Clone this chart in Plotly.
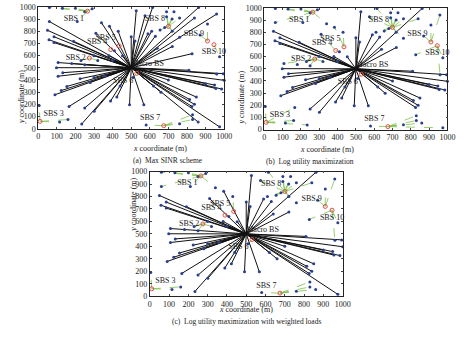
import plotly.graph_objects as go

# ---------------- data ----------------
macro_bs = (500, 500)
sbs_names = ["SBS 1", "SBS 2", "SBS 3", "SBS 4", "SBS 5", "SBS 6", "SBS 7", "SBS 8", "SBS 9", "SBS 10"]
sbs_x = [265, 275, 10, 390, 435, 530, 675, 700, 910, 945]
sbs_y = [965, 580, 60, 650, 680, 455, 25, 840, 720, 690]

user_x = [60, 50, 58, 85, 85, 190, 210, 130, 60, 200,
          250, 290, 340, 310, 383, 430, 527, 574, 615, 500,
          520, 590, 610, 630, 655, 690, 730, 690, 720, 760,
          840, 862, 959, 680, 720, 760, 910, 870, 721, 640,
          827, 975, 960, 410, 380, 453, 400, 107, 98, 132,
          107, 225, 180, 250, 320, 300, 230, 154, 124, 90,
          166, 250, 301, 234, 389, 423, 491, 568, 280, 300,
          360, 5, 115, 160, 810, 995, 1000, 948, 900, 986,
          955, 814, 826, 840, 850, 975, 860, 830, 830, 580,
          760, 510, 700, 620, 660, 440]
user_y = [880, 808, 730, 755, 707, 718, 880, 990, 995, 990,
          960, 985, 870, 783, 842, 800, 968, 928, 995, 755,
          720, 780, 800, 760, 810, 960, 960, 920, 900, 910,
          910, 995, 941, 830, 800, 750, 860, 770, 675, 660,
          616, 590, 450, 640, 600, 598, 560, 543, 501, 460,
          431, 410, 535, 525, 560, 600, 560, 347, 313, 279,
          183, 170, 144, 39, 227, 261, 196, 196, 380, 420,
          430, 190, 55, 75, 480, 452, 397, 358, 370, 326,
          330, 240, 183, 200, 260, 15, 55, 115, 75, 30,
          40, 420, 400, 350, 300, 350]

# serving station per user: 0 = macro BS, k = SBS k
assoc_a = [0, 0, 0, 0, 0, 0, 1, 1, 1, 1,
           1, 1, 0, 0, 0, 0, 0, 0, 0, 0,
           0, 0, 0, 0, 8, 8, 8, 8, 8, 8,
           0, 0, 0, 8, 8, 8, 9, 9, 0, 0,
           0, 10, 0, 4, 0, 0, 0, 0, 0, 0,
           0, 0, 0, 0, 2, 0, 2, 0, 0, 0,
           0, 0, 0, 0, 0, 0, 0, 0, 0, 0,
           0, 3, 3, 3, 0, 0, 0, 0, 0, 0,
           0, 0, 0, 0, 0, 0, 0, 7, 7, 7,
           7, 6, 0, 0, 0, 0]
assoc_b = [1, 0, 0, 0, 0, 0, 1, 1, 1, 1,
           1, 1, 1, 4, 5, 5, 0, 8, 8, 0,
           0, 0, 8, 0, 8, 8, 8, 8, 8, 8,
           8, 0, 9, 8, 8, 8, 9, 9, 0, 0,
           10, 10, 10, 4, 0, 0, 0, 2, 0, 0,
           0, 0, 2, 2, 2, 2, 2, 0, 0, 0,
           3, 0, 0, 3, 0, 0, 0, 0, 0, 0,
           0, 3, 3, 3, 0, 0, 0, 0, 0, 0,
           0, 0, 0, 0, 0, 7, 7, 7, 7, 7,
           7, 6, 0, 0, 0, 0]
assoc_c = [1, 0, 0, 0, 0, 0, 1, 1, 1, 1,
           1, 1, 1, 0, 0, 5, 0, 8, 8, 0,
           0, 0, 8, 0, 8, 8, 8, 8, 8, 8,
           8, 0, 9, 8, 8, 8, 9, 9, 0, 0,
           10, 10, 10, 4, 0, 0, 0, 0, 0, 0,
           0, 0, 2, 2, 2, 2, 2, 0, 0, 0,
           0, 0, 0, 0, 0, 0, 0, 0, 0, 0,
           0, 3, 3, 3, 0, 0, 0, 0, 0, 0,
           0, 0, 0, 0, 0, 0, 7, 7, 7, 7,
           7, 6, 0, 0, 0, 0]

captions = ["(a)  Max SINR scheme", "(b)  Log utility maximization",
            "(c)  Log utility maximization with weighted loads"]
tick_vals = list(range(0, 1001, 100))

# ---------------- figure ----------------
W, H = 474, 348
FONT = "Liberation Serif, Times New Roman, serif"
TXT = "#1a1a1a"
fig = go.Figure()

panels = [
    dict(assoc=assoc_a, xa="x", ya="y", xd=(37, 227), yd=(3, 128)),
    dict(assoc=assoc_b, xa="x2", ya="y2", xd=(268, 455), yd=(4, 129)),
    dict(assoc=assoc_c, xa="x3", ya="y3", xd=(151, 348), yd=(172, 300)),
]
label_pos = ["bottom left", "middle left", "top right", "top left", "top left",
             "bottom left", "top left", "top left", "top left", "bottom center"]

for p in panels:
    bx, by, gx, gy = [], [], [], []
    for ux, uy, s in zip(user_x, user_y, p["assoc"]):
        if s == 0:
            bx += [macro_bs[0], ux, None]
            by += [macro_bs[1], uy, None]
        else:
            gx += [sbs_x[s - 1], ux, None]
            gy += [sbs_y[s - 1], uy, None]
    fig.add_trace(go.Scatter(x=gx, y=gy, mode="lines", xaxis=p["xa"], yaxis=p["ya"],
                             line=dict(color="#7cc24a", width=0.8, dash="dash"),
                             hoverinfo="skip", showlegend=False))
    fig.add_trace(go.Scatter(x=bx, y=by, mode="lines", xaxis=p["xa"], yaxis=p["ya"],
                             line=dict(color="#111111", width=1.0),
                             hoverinfo="skip", showlegend=False))
    fig.add_trace(go.Scatter(x=user_x, y=user_y, mode="markers", xaxis=p["xa"], yaxis=p["ya"],
                             marker=dict(color="#2a3f8c", size=3), cliponaxis=False,
                             showlegend=False))
    fig.add_trace(go.Scatter(x=sbs_x, y=sbs_y, mode="markers+text", xaxis=p["xa"], yaxis=p["ya"],
                             marker=dict(color="#e0504a", size=4, symbol="circle-open",
                                         line=dict(width=1)),
                             text=sbs_names, textposition=label_pos,
                             textfont=dict(family=FONT, size=8, color=TXT),
                             cliponaxis=False, showlegend=False))
    fig.add_trace(go.Scatter(x=[macro_bs[0]], y=[macro_bs[1]], mode="text", xaxis=p["xa"], yaxis=p["ya"],
                             text=["Macro BS"], textposition="top right",
                             textfont=dict(family=FONT, size=8, color=TXT),
                             cliponaxis=False, showlegend=False))

axis_common = dict(range=[0, 1000], tickvals=tick_vals, ticks="inside", ticklen=2,
                   showline=True, linecolor="#222222", linewidth=0.8, mirror="ticks",
                   showgrid=False, zeroline=False,
                   tickfont=dict(family=FONT, size=8, color=TXT))

layout = dict(width=W, height=H, margin=dict(l=0, r=0, t=0, b=0),
              paper_bgcolor="white", plot_bgcolor="white", showlegend=False)
annotations = []
for i, p in enumerate(panels):
    sx = "" if i == 0 else str(i + 1)
    x0, x1 = p["xd"]
    y0, y1 = p["yd"]
    layout["xaxis" + sx] = dict(axis_common, domain=[x0 / W, x1 / W], anchor="y" + sx)
    layout["yaxis" + sx] = dict(axis_common, domain=[1 - y1 / H, 1 - y0 / H], anchor="x" + sx)
    cx = (x0 + x1) / 2
    annotations.append(dict(text="<i>x</i> coordinate (m)", x=cx / W, y=1 - (y1 + 20) / H,
                            xref="paper", yref="paper", showarrow=False,
                            font=dict(family=FONT, size=8, color=TXT)))
    annotations.append(dict(text="<i>y</i> coordinate (m)", x=(x0 - 23) / W, y=1 - (y0 + y1) / 2 / H,
                            xref="paper", yref="paper", showarrow=False, textangle=-90,
                            font=dict(family=FONT, size=8, color=TXT)))
    annotations.append(dict(text=captions[i], x=cx / W, y=1 - (y1 + 33) / H,
                            xref="paper", yref="paper", showarrow=False,
                            font=dict(family=FONT, size=7.5, color=TXT)))
layout["annotations"] = annotations
fig.update_layout(**layout)
fig.write_html("out.html")
